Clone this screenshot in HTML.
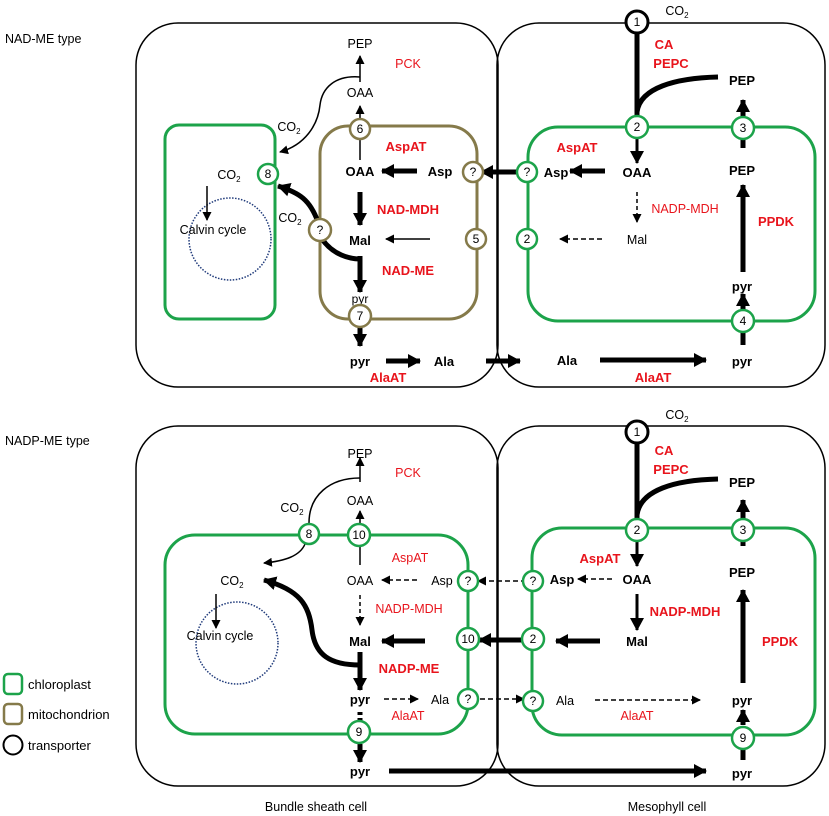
<!DOCTYPE html>
<html><head><meta charset="utf-8"><style>
html,body{margin:0;padding:0;background:#fff;}
svg{display:block;font-family:"Liberation Sans",Arial,sans-serif;}
.b{font-weight:bold;font-size:13px;}
.r{fill:#e8141c;}
.n{font-size:12.5px;}
.c text{font-size:11px;text-anchor:middle;}
</style></head><body>
<svg width="829" height="816" viewBox="0 0 829 816" xmlns="http://www.w3.org/2000/svg">
<defs>
<marker id="A" markerUnits="userSpaceOnUse" markerWidth="14" markerHeight="14" refX="12" refY="7" orient="auto"><path d="M0,0 L13,7 L0,14 z" fill="#000"/></marker>
<marker id="s" markerUnits="userSpaceOnUse" markerWidth="9" markerHeight="9" refX="8" refY="4.5" orient="auto"><path d="M0,0 L9,4.5 L0,9 z" fill="#000"/></marker>
</defs>
<g text-anchor="middle">
<g fill="none" stroke="#000" stroke-width="1.5">
<rect x="136" y="23" width="362" height="364" rx="42"/>
<rect x="497" y="23" width="328" height="364" rx="42"/>
<rect x="136" y="426" width="362" height="360" rx="42"/>
<rect x="497" y="426" width="328" height="360" rx="42"/>
</g>
<g fill="none" stroke-width="3">
<rect x="165" y="125" width="110" height="194" rx="14" stroke="#1ca34a"/>
<rect x="320" y="126" width="157" height="193" rx="28" stroke="#857a4a"/>
<rect x="528" y="127" width="287" height="194" rx="30" stroke="#1ca34a"/>
<rect x="165" y="535" width="303" height="199" rx="30" stroke="#1ca34a"/>
<rect x="532" y="528" width="283" height="207" rx="30" stroke="#1ca34a"/>
</g>
<g fill="none" stroke="#1f3a7a" stroke-width="1.5" stroke-dasharray="1.5,1.5">
<circle cx="230" cy="239" r="41"/>
<circle cx="237" cy="643" r="41"/>
</g>

<g stroke="#000" fill="none">
<line x1="360" y1="82" x2="360" y2="56" stroke-width="1.5" marker-end="url(#s)"/>
<line x1="360" y1="120" x2="360" y2="106" stroke-width="1.5" marker-end="url(#s)"/>
<path d="M360,77 C335,75 322,88 320,105 C318,125 305,145 280,152" stroke-width="1.5" marker-end="url(#s)"/>
<line x1="360" y1="140" x2="360" y2="160" stroke-width="1.5"/>
<line x1="417" y1="171" x2="382" y2="171" stroke-width="5" marker-end="url(#A)"/>
<line x1="360" y1="192" x2="360" y2="225" stroke-width="5" marker-end="url(#A)"/>
<line x1="430" y1="239" x2="386" y2="239" stroke-width="1.5" marker-end="url(#s)"/>
<path d="M318,222 C310,200 300,193 278,186" stroke-width="5" marker-end="url(#A)"/>
<path d="M322,239 C333,255 350,259 360,259" stroke-width="5"/>
<line x1="360" y1="256" x2="360" y2="292" stroke-width="5" marker-end="url(#A)"/>
<line x1="360" y1="327" x2="360" y2="346" stroke-width="5" marker-end="url(#A)"/>
<line x1="386" y1="361" x2="420" y2="361" stroke-width="5" marker-end="url(#A)"/>
<line x1="486" y1="361" x2="520" y2="361" stroke-width="5" marker-end="url(#A)"/>
<line x1="207" y1="186" x2="207" y2="220" stroke-width="1.5" marker-end="url(#s)"/>
<line x1="516" y1="172" x2="481" y2="172" stroke-width="5" marker-end="url(#A)"/>
</g>
<text x="360" y="48" class="n">PEP</text>
<text x="408" y="68" class="n r">PCK</text>
<text x="360" y="97" class="n">OAA</text>
<text x="289" y="131" class="n">CO<tspan font-size="8" dy="3">2</tspan></text>
<text x="406" y="151" class="b r">AspAT</text>
<text x="360" y="176" class="b">OAA</text>
<text x="440" y="176" class="b">Asp</text>
<text x="408" y="214" class="b r">NAD-MDH</text>
<text x="360" y="245" class="b">Mal</text>
<text x="408" y="275" class="b r">NAD-ME</text>
<text x="360" y="303" font-size="12">pyr</text>
<text x="360" y="366" class="b">pyr</text>
<text x="444" y="366" class="b">Ala</text>
<text x="388" y="382" class="b r">AlaAT</text>
<text x="229" y="179" class="n">CO<tspan font-size="8" dy="3">2</tspan></text>
<text x="290" y="222" class="n">CO<tspan font-size="8" dy="3">2</tspan></text>
<text x="213" y="234" class="n">Calvin cycle</text>

<g stroke="#000" fill="none">
<line x1="637" y1="33" x2="637" y2="116" stroke-width="5"/>
<path d="M637,112 C640,88 675,78 718,77" stroke-width="5"/>
<line x1="637" y1="138" x2="637" y2="163" stroke-width="3" marker-end="url(#A)"/>
<line x1="605" y1="171" x2="570" y2="171" stroke-width="5" marker-end="url(#A)"/>
<line x1="637" y1="192" x2="637" y2="222" stroke-width="1.5" stroke-dasharray="4,3" marker-end="url(#s)"/>
<line x1="602" y1="239" x2="560" y2="239" stroke-width="1.5" stroke-dasharray="5,3" marker-end="url(#s)"/>
<line x1="743" y1="148" x2="743" y2="100" stroke-width="5" marker-end="url(#A)"/>
<line x1="743" y1="272" x2="743" y2="185" stroke-width="5" marker-end="url(#A)"/>
<line x1="743" y1="310" x2="743" y2="294" stroke-width="5" marker-end="url(#A)"/>
<line x1="743" y1="345" x2="743" y2="330" stroke-width="5"/>
<line x1="600" y1="360" x2="706" y2="360" stroke-width="5" marker-end="url(#A)"/>
</g>
<text x="677" y="15" class="n">CO<tspan font-size="8" dy="3">2</tspan></text>
<text x="664" y="49" class="b r">CA</text>
<text x="671" y="68" class="b r">PEPC</text>
<text x="742" y="85" class="b">PEP</text>
<text x="577" y="152" class="b r">AspAT</text>
<text x="637" y="177" class="b">OAA</text>
<text x="556" y="177" class="b">Asp</text>
<text x="685" y="213" class="n r">NADP-MDH</text>
<text x="637" y="244" class="n">Mal</text>
<text x="742" y="175" class="b">PEP</text>
<text x="776" y="226" class="b r">PPDK</text>
<text x="742" y="291" class="b">pyr</text>
<text x="742" y="366" class="b">pyr</text>
<text x="567" y="365" class="b">Ala</text>
<text x="653" y="382" class="b r">AlaAT</text>

<g stroke="#000" fill="none">
<line x1="360" y1="482" x2="360" y2="458" stroke-width="1.5" marker-end="url(#s)"/>
<path d="M360,478 C330,478 309,495 309,523" stroke-width="1.5"/>
<path d="M305,544 C300,556 285,561 264,563" stroke-width="1.5" marker-end="url(#s)"/>
<line x1="360" y1="525" x2="360" y2="511" stroke-width="1.5" marker-end="url(#s)"/>
<line x1="360" y1="546" x2="360" y2="565" stroke-width="1.5"/>
<line x1="417" y1="580" x2="382" y2="580" stroke-width="1.5" stroke-dasharray="5,3" marker-end="url(#s)"/>
<line x1="526" y1="581" x2="478" y2="581" stroke-width="1.5" stroke-dasharray="5,3" marker-end="url(#s)"/>
<line x1="360" y1="595" x2="360" y2="625" stroke-width="1.5" stroke-dasharray="4,3" marker-end="url(#s)"/>
<line x1="425" y1="641" x2="382" y2="641" stroke-width="5" marker-end="url(#A)"/>
<line x1="524" y1="640" x2="479" y2="640" stroke-width="5" marker-end="url(#A)"/>
<path d="M360,665 C330,665 315,655 312,630 C309,605 300,590 264,580" stroke-width="5" marker-end="url(#A)"/>
<line x1="360" y1="652" x2="360" y2="690" stroke-width="5" marker-end="url(#A)"/>
<line x1="384" y1="699" x2="418" y2="699" stroke-width="1.5" stroke-dasharray="5,3" marker-end="url(#s)"/>
<line x1="480" y1="699" x2="524" y2="699" stroke-width="1.5" stroke-dasharray="5,3" marker-end="url(#s)"/>
<line x1="360" y1="712" x2="360" y2="721" stroke-width="5" stroke-dasharray="3,3"/>
<line x1="360" y1="744" x2="360" y2="762" stroke-width="5" marker-end="url(#A)"/>
<line x1="389" y1="771" x2="706" y2="771" stroke-width="5" marker-end="url(#A)"/>
<line x1="216" y1="594" x2="216" y2="628" stroke-width="1.5" marker-end="url(#s)"/>
</g>
<text x="360" y="458" class="n">PEP</text>
<text x="408" y="477" class="n r">PCK</text>
<text x="360" y="505" class="n">OAA</text>
<text x="292" y="512" class="n">CO<tspan font-size="8" dy="3">2</tspan></text>
<text x="410" y="562" class="n r">AspAT</text>
<text x="360" y="585" class="n">OAA</text>
<text x="442" y="585" class="n">Asp</text>
<text x="409" y="613" class="n r">NADP-MDH</text>
<text x="360" y="646" class="b">Mal</text>
<text x="409" y="673" class="b r">NADP-ME</text>
<text x="360" y="704" class="b">pyr</text>
<text x="440" y="704" class="n">Ala</text>
<text x="408" y="720" class="n r">AlaAT</text>
<text x="360" y="776" class="b">pyr</text>
<text x="232" y="585" class="n">CO<tspan font-size="8" dy="3">2</tspan></text>
<text x="220" y="640" class="n">Calvin cycle</text>
<text x="316" y="811" class="n">Bundle sheath cell</text>

<g stroke="#000" fill="none">
<line x1="637" y1="443" x2="637" y2="520" stroke-width="5"/>
<path d="M637,515 C640,490 675,480 718,479" stroke-width="5"/>
<line x1="637" y1="540" x2="637" y2="566" stroke-width="3" marker-end="url(#A)"/>
<line x1="612" y1="579" x2="578" y2="579" stroke-width="1.5" stroke-dasharray="5,3" marker-end="url(#s)"/>
<line x1="637" y1="594" x2="637" y2="630" stroke-width="3" marker-end="url(#A)"/>
<line x1="600" y1="641" x2="556" y2="641" stroke-width="5" marker-end="url(#A)"/>
<line x1="595" y1="700" x2="700" y2="700" stroke-width="1.5" stroke-dasharray="5,3" marker-end="url(#s)"/>
<line x1="743" y1="546" x2="743" y2="500" stroke-width="5" marker-end="url(#A)"/>
<line x1="743" y1="683" x2="743" y2="590" stroke-width="5" marker-end="url(#A)"/>
<line x1="743" y1="725" x2="743" y2="710" stroke-width="5" marker-end="url(#A)"/>
<line x1="743" y1="760" x2="743" y2="748" stroke-width="5"/>
</g>
<text x="677" y="419" class="n">CO<tspan font-size="8" dy="3">2</tspan></text>
<text x="664" y="455" class="b r">CA</text>
<text x="671" y="474" class="b r">PEPC</text>
<text x="742" y="487" class="b">PEP</text>
<text x="600" y="563" class="b r">AspAT</text>
<text x="637" y="584" class="b">OAA</text>
<text x="562" y="584" class="b">Asp</text>
<text x="685" y="616" class="b r">NADP-MDH</text>
<text x="637" y="646" class="b">Mal</text>
<text x="742" y="577" class="b">PEP</text>
<text x="780" y="646" class="b r">PPDK</text>
<text x="565" y="705" class="n">Ala</text>
<text x="637" y="720" class="n r">AlaAT</text>
<text x="742" y="705" class="b">pyr</text>
<text x="742" y="778" class="b">pyr</text>
<text x="667" y="811" class="n">Mesophyll cell</text>

<g class="c" stroke-width="2.5" fill="#fff">
<g stroke="#1ca34a">
<circle cx="268" cy="174" r="10"/><circle cx="527" cy="172" r="10"/><circle cx="527" cy="239" r="10"/>
<circle cx="637" cy="127" r="11"/><circle cx="743" cy="128" r="11"/><circle cx="743" cy="321" r="11"/>
<circle cx="309" cy="534" r="10"/><circle cx="359" cy="535" r="11"/><circle cx="468" cy="581" r="10"/>
<circle cx="468" cy="639" r="11"/><circle cx="468" cy="699" r="10"/><circle cx="359" cy="732" r="11"/>
<circle cx="533" cy="581" r="10"/><circle cx="533" cy="639" r="11"/><circle cx="533" cy="701" r="10"/>
<circle cx="637" cy="530" r="11"/><circle cx="743" cy="530" r="11"/><circle cx="743" cy="738" r="11"/>
</g>
<g stroke="#857a4a">
<circle cx="360" cy="129" r="10"/><circle cx="473" cy="172" r="10"/><circle cx="476" cy="239" r="10"/>
<circle cx="320" cy="230" r="11"/><circle cx="360" cy="316" r="11"/>
</g>
<g stroke="#000" stroke-width="3">
<circle cx="637" cy="22" r="11"/><circle cx="637" cy="432" r="11"/>
</g>
</g>
<g font-size="12">
<text x="268" y="178">8</text><text x="527" y="176">?</text><text x="527" y="243">2</text>
<text x="637" y="131">2</text><text x="743" y="132">3</text><text x="743" y="325">4</text>
<text x="309" y="538">8</text><text x="359" y="539">10</text><text x="468" y="585">?</text>
<text x="468" y="643">10</text><text x="468" y="703">?</text><text x="359" y="736">9</text>
<text x="533" y="585">?</text><text x="533" y="643">2</text><text x="533" y="705">?</text>
<text x="637" y="534">2</text><text x="743" y="534">3</text><text x="743" y="742">9</text>
<text x="360" y="133">6</text><text x="473" y="176">?</text><text x="476" y="243">5</text>
<text x="320" y="234">?</text><text x="360" y="320">7</text>
<text x="637" y="26">1</text><text x="637" y="436">1</text>
</g>
</g>

<text x="5" y="43" font-size="12.5">NAD-ME type</text>
<text x="5" y="445" font-size="12.5">NADP-ME type</text>
<rect x="4" y="674" width="18" height="20" rx="4" fill="none" stroke="#1ca34a" stroke-width="2.5"/>
<text x="28" y="689" font-size="13">chloroplast</text>
<rect x="4" y="704" width="18" height="20" rx="4" fill="none" stroke="#857a4a" stroke-width="2.5"/>
<text x="28" y="719" font-size="13">mitochondrion</text>
<circle cx="13" cy="745" r="9.5" fill="none" stroke="#000" stroke-width="2"/>
<text x="28" y="750" font-size="13">transporter</text>
</svg>
</body></html>
